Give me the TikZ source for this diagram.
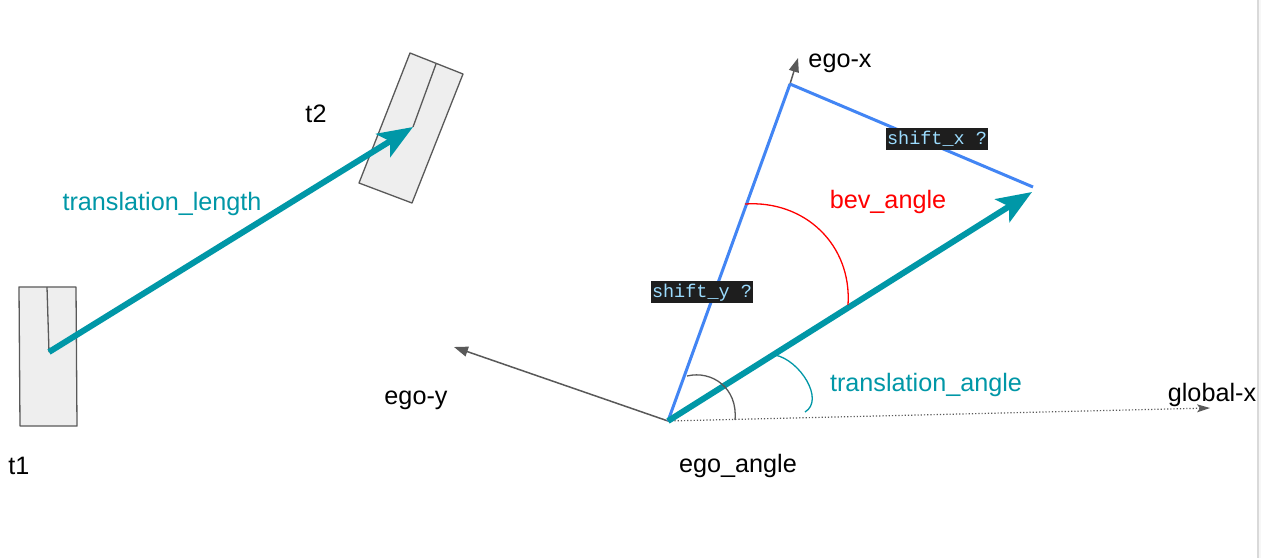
\documentclass[tikz,border=0pt]{standalone}
\usepackage{fontspec}
\setmainfont{Liberation Sans}
\setmonofont{Liberation Mono}
\usetikzlibrary{arrows.meta}
\definecolor{tealc}{HTML}{0097A7}
\definecolor{bluec}{HTML}{4285F4}
\definecolor{grayc}{HTML}{595959}
\definecolor{carfill}{HTML}{EEEEEE}
\definecolor{codebg}{HTML}{1E1E1E}
\definecolor{codefg}{HTML}{9CDCFE}
\tikzset{
  lbl/.style={inner sep=0pt, anchor=base, font=\fontsize{25.2}{30}\selectfont},
  codebox/.style={fill=codebg, text=codefg, inner sep=0pt, minimum width=102pt, minimum height=22pt,
    font=\fontsize{18.5}{22}\ttfamily, text height=13pt, text depth=3pt},
  car/.style={draw=grayc, fill=carfill, line width=1.3pt, line join=round},
  bigarrow/.style={draw=tealc, line width=6pt, -{Stealth[length=35pt,width=27pt,inset=8pt]}},
  axis/.style={draw=grayc, line width=1.5pt, -{Triangle[length=14pt,width=10pt]}},
}
\begin{document}
\begin{tikzpicture}[x=1pt,y=-1pt]
\useasboundingbox (0,0) rectangle (1261,558);
\fill[white] (0,0) rectangle (1261,558);
\fill[gray!6] (1258,0) rectangle (1261,558);
\draw[gray!30, line width=1.5pt] (1258,0) -- (1258,558);

% cars
\draw[car] (19,287) -- (76,287) -- (77,426) -- (20,426) -- cycle;
\coordinate (c1top) at (47,287);
\coordinate (p1) at (49,352);
\draw[grayc, line width=1.3pt] (c1top) -- (p1);
\draw[car] (410,53) -- (463,74) -- (412,203) -- (359,183) -- cycle;
\coordinate (c2top) at (436,64);
\coordinate (p2) at (413,127);
\draw[grayc, line width=1.3pt] (c2top) -- (p2);
\draw[bigarrow] (p1) -- (p2);

\node[lbl] (t1) at (19,474) {t1};
\node[lbl] (t2) at (316,122) {t2};
\node[lbl, text=tealc] (tl) at (162,210) {translation\_length};

% right diagram
\coordinate (O) at (668,421);
\coordinate (egox) at (798,58);
\coordinate (egoy) at (454,347);
\coordinate (glob) at (1210,408);
\coordinate (bx) at (790,84);
\coordinate (bs) at (1033,187);
\coordinate (tr) at (1032,192);

\draw[draw=grayc, line width=1.2pt, dotted, -{Stealth[length=13pt,width=8pt,inset=3pt]}] (O) -- (glob);
\draw[axis] (O) -- (egoy);
\draw[axis] (bx) -- (egox);
\draw[bluec, line width=3pt] (O) -- (bx);
\draw[bluec, line width=3pt] (bx) -- (bs);
\draw[bigarrow] (O) -- (tr);

% arcs
\draw[red, line width=1.3pt] (745,204) .. controls (805,200) and (852,245) .. (848,305);
\draw[grayc, line width=1.3pt] (687,376) .. controls (712,370) and (738,388) .. (735,420);
\draw[tealc, line width=1.3pt] (775,355) .. controls (800,360) and (825,400) .. (805,412);

\node[codebox] (sx) at (937,139) {shift\_x ?};
\node[codebox] (sy) at (702,292) {shift\_y ?};

\node[lbl] (lx) at (840,67) {ego-x};
\node[lbl, text=red] (bev) at (888,208) {bev\_angle};
\node[lbl, text=tealc] (ta) at (926,391) {translation\_angle};
\node[lbl] (gx) at (1212,401) {global-x};
\node[lbl] (ly) at (416,404) {ego-y};
\node[lbl] (ea) at (738,472) {ego\_angle};
\end{tikzpicture}
\end{document}
